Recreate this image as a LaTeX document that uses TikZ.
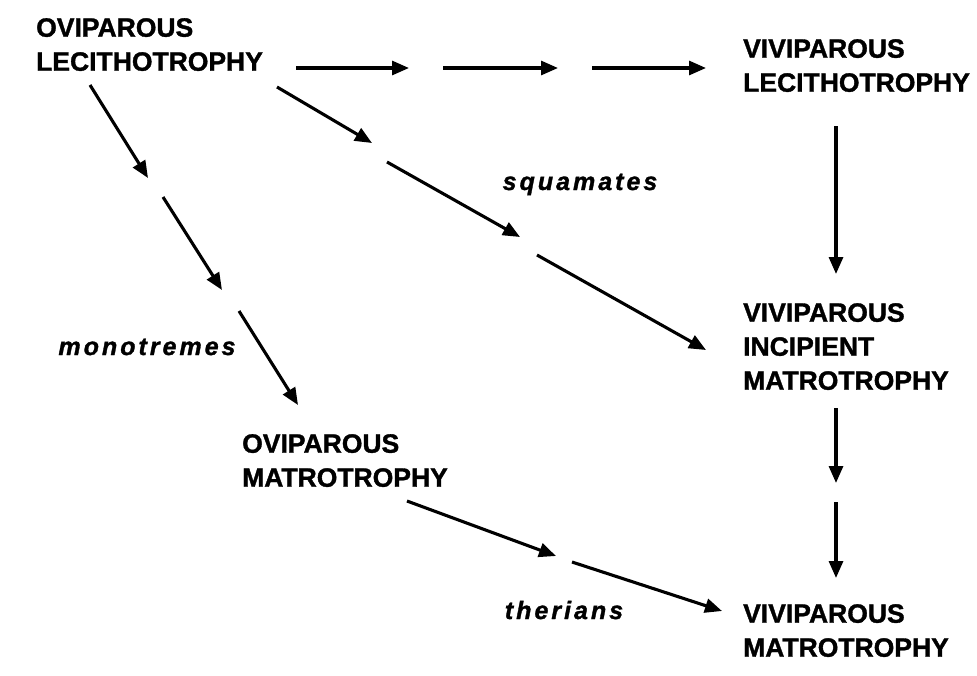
\documentclass[tikz,border=0pt]{standalone}
\usepackage{fontspec}
\setmainfont{Liberation Sans}
\usetikzlibrary{arrows.meta,calc}
\begin{document}
\begin{tikzpicture}[x=1pt,y=-1pt,
  state/.style={anchor=north west,inner sep=0pt,align=left,font=\fontsize{26.5}{34}\selectfont\bfseries\addfontfeature{FakeBold=1.3}},
  group/.style={anchor=base,inner sep=0pt,font=\fontsize{25}{30}\selectfont\bfseries\itshape\addfontfeature{LetterSpace=12,FakeBold=1.3}},
  arr/.style={line width=3.1pt,-{Triangle[length=17pt,width=14pt]}}]
\useasboundingbox[fill=white] (0,0) rectangle (977,675);

% states
\node[state] (OL)  at (36,18)  {OVIPAROUS\\LECITHOTROPHY};
\node[state] (VL)  at (743,39) {VIVIPAROUS\\LECITHOTROPHY};
\node[state] (VIM) at (743,303) {VIVIPAROUS\\INCIPIENT\\MATROTROPHY};
\node[state] (OM)  at (242,434) {OVIPAROUS\\MATROTROPHY};
\node[state] (VM)  at (743,604) {VIVIPAROUS\\MATROTROPHY};

% group labels
\node[group] (mono) at (147,355) {monotremes};
\node[group] (squa) at (580,190) {squamates};
\node[group] (ther) at (564,619) {therians};

% connector segment ends
\coordinate (h1s) at (296,68);  \coordinate (h1e) at (409,68);
\coordinate (h2s) at (443,68);  \coordinate (h2e) at (558,68);
\coordinate (h3s) at (592,68);  \coordinate (h3e) at (706,68);

\coordinate (d1s) at (90,85);   \coordinate (d1e) at (148,178);
\coordinate (d2s) at (163,197); \coordinate (d2e) at (222,290);
\coordinate (d3s) at (239,311); \coordinate (d3e) at (298,405);

\coordinate (s1s) at (277,87);  \coordinate (s1e) at (372,143);
\coordinate (s2s) at (387,162); \coordinate (s2e) at (520,237);
\coordinate (s3s) at (537,255); \coordinate (s3e) at (706,350);

\coordinate (v1s) at (836,126); \coordinate (v1e) at (836,274);
\coordinate (v2s) at (836,408); \coordinate (v2e) at (836,483);
\coordinate (v3s) at (836,502); \coordinate (v3e) at (836,578);

\coordinate (t1s) at (407,501); \coordinate (t1e) at (556,556);
\coordinate (t2s) at (572,562); \coordinate (t2e) at (722,611);

% OL -> VL
\draw[arr] (h1s) -- (h1e);
\draw[arr] (h2s) -- (h2e);
\draw[arr] (h3s) -- (h3e);
% OL -> OM
\draw[arr] (d1s) -- (d1e);
\draw[arr] (d2s) -- (d2e);
\draw[arr] (d3s) -- (d3e);
% OL -> VIM
\draw[arr] (s1s) -- (s1e);
\draw[arr] (s2s) -- (s2e);
\draw[arr] (s3s) -- (s3e);
% VL -> VIM
\draw[arr] (v1s) -- (v1e);
% VIM -> VM
\draw[arr] (v2s) -- (v2e);
\draw[arr] (v3s) -- (v3e);
% OM -> VM
\draw[arr] (t1s) -- (t1e);
\draw[arr] (t2s) -- (t2e);
\end{tikzpicture}
\end{document}
